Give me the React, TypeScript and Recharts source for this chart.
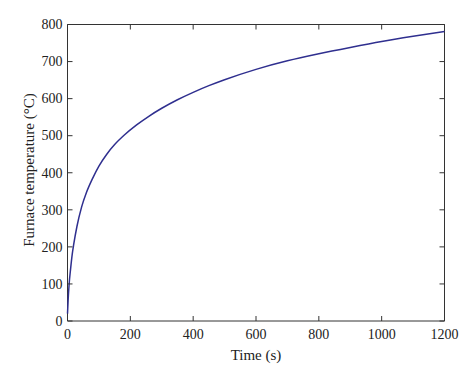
import { LineChart, Line, XAxis, YAxis, ReferenceArea } from 'recharts';

// time (s) and furnace temperature (°C)
const times = [0, 2, 5, 10, 15, 20, 30, 45, 60, 80, 100, 125, 150, 180, 220, 260, 300, 350, 400, 450, 500, 600, 700, 800, 900, 1000, 1100, 1200];
const temps = [20, 56, 97, 142, 180, 208, 255, 308, 346, 385, 418, 450, 476, 501, 529, 553, 574, 597, 617, 635, 651, 679, 702, 721, 738, 754, 768, 781];

const xTicks = [0, 200, 400, 600, 800, 1000, 1200];
const yTicks = [0, 100, 200, 300, 400, 500, 600, 700, 800];

const data = times.map((t, i) => ({ t, temp: temps[i] }));

const W = 474;
const H = 380;
const LEFT = 67.5;
const RIGHT = 444.5;
const TOP = 24.5;
const BOTTOM = 321;
const TICK = 5;
const AXIS = '#333';
const FONT = '"Liberation Serif", "DejaVu Serif", serif';

const XTick = (props: any) => {
  const { x, payload } = props;
  return (
    <g>
      <line x1={x} x2={x} y1={BOTTOM} y2={BOTTOM - TICK} stroke={AXIS} />
      <line x1={x} x2={x} y1={TOP} y2={TOP + TICK} stroke={AXIS} />
      <text x={x} y={BOTTOM + 17.5} textAnchor="middle" fontSize={14} fontFamily={FONT} fill="#222">
        {payload.value}
      </text>
    </g>
  );
};

const YTick = (props: any) => {
  const { y, payload } = props;
  return (
    <g>
      <line x1={LEFT} x2={LEFT + TICK} y1={y} y2={y} stroke={AXIS} />
      <line x1={RIGHT - TICK} x2={RIGHT} y1={y} y2={y} stroke={AXIS} />
      <text x={LEFT - 5} y={y + 4.8} textAnchor="end" fontSize={14} fontFamily={FONT} fill="#222">
        {payload.value}
      </text>
    </g>
  );
};

export default function App() {
  return (
    <div style={{ position: 'absolute', left: 0, top: 0, width: W, height: H, background: '#fff' }}>
      <LineChart
        width={W}
        height={H}
        data={data}
        margin={{ top: TOP, right: W - RIGHT, bottom: H - BOTTOM - 30, left: LEFT - 60 }}
      >
        <XAxis
          dataKey="t"
          type="number"
          domain={[0, 1200]}
          ticks={xTicks}
          height={30}
          axisLine={false}
          tickLine={false}
          tick={<XTick />}
          interval={0}
          label={{
            value: 'Time (s)',
            position: 'insideBottom',
            offset: -9,
            fontSize: 15,
            fontFamily: FONT,
            fill: '#222',
          }}
        />
        <YAxis
          type="number"
          domain={[0, 800]}
          ticks={yTicks}
          width={60}
          axisLine={false}
          tickLine={false}
          tick={<YTick />}
          interval={0}
          label={{
            content: () => (
              <text
                x={28.5}
                y={170}
                transform="rotate(-90 28.5 170)"
                textAnchor="middle"
                dominantBaseline="central"
                fontSize={15}
                fontFamily={FONT}
                fill="#222"
              >
                Furnace temperature (°C)
              </text>
            ),
          }}
        />
        <ReferenceArea x1={0} x2={1200} y1={0} y2={800} fill="none" stroke={AXIS} strokeWidth={1} ifOverflow="visible" />
        <Line
          type="monotone"
          dataKey="temp"
          stroke="#2f2f8f"
          strokeWidth={1.5}
          dot={false}
          isAnimationActive={false}
        />
      </LineChart>
    </div>
  );
}
